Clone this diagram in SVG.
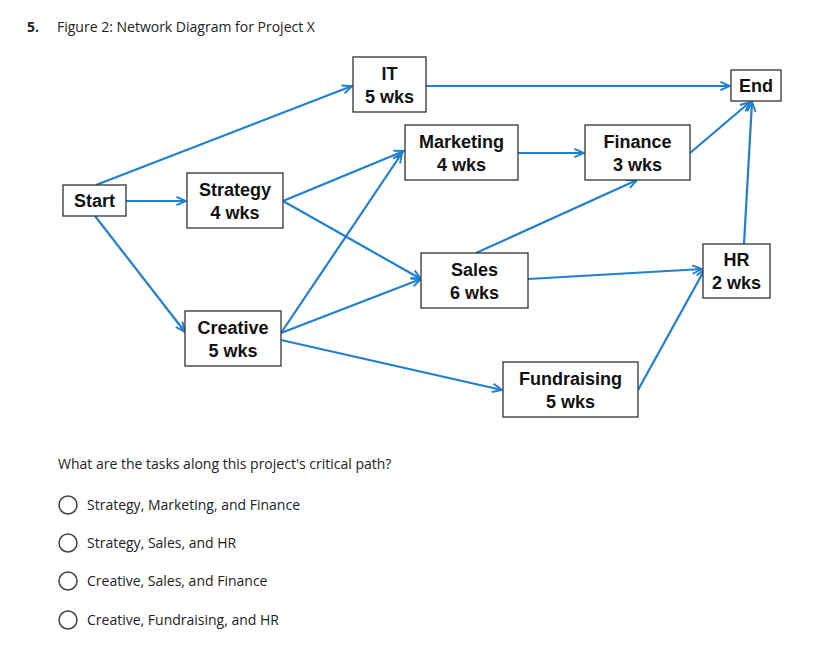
<svg xmlns="http://www.w3.org/2000/svg" width="819" height="666" viewBox="0 0 819 666">
<style>
.n{fill:#fff;stroke:#333;stroke-width:1.3}
.t{font-family:"Liberation Sans",Arial,sans-serif;font-size:18px;font-weight:bold;fill:#111;text-anchor:middle}
.c line{stroke:#1f7fd0;stroke-width:2.2;marker-end:url(#a)}
.q{font-family:"Open Sans","Noto Sans",sans-serif;font-size:14px;fill:#222}
.r{fill:#fff;stroke:#444;stroke-width:1.5}
</style>
<defs><marker id="a" viewBox="0 0 10 10" refX="9" refY="5" markerWidth="12" markerHeight="12" orient="auto" markerUnits="userSpaceOnUse"><path d="M1,1.5 L9,5 L1,8.5" fill="none" stroke="#1f7fd0" stroke-width="1.6"/></marker></defs>
<rect width="819" height="666" fill="#fff"/>
<text x="27" y="32" class="q" font-weight="bold">5.</text>
<text x="57" y="32" class="q">Figure 2: Network Diagram for Project X</text>
<g class="c">
<line x1="96" y1="185" x2="352" y2="86"/>
<line x1="126" y1="201" x2="186" y2="201"/>
<line x1="95" y1="216" x2="185" y2="332"/>
<line x1="283" y1="201" x2="404" y2="151"/>
<line x1="283" y1="201" x2="421" y2="279"/>
<line x1="281" y1="333" x2="402" y2="153"/>
<line x1="281" y1="333" x2="421" y2="279"/>
<line x1="281" y1="340" x2="502" y2="390"/>
<line x1="426" y1="86" x2="730" y2="86"/>
<line x1="518" y1="153" x2="584" y2="153"/>
<line x1="476" y1="253" x2="637" y2="180"/>
<line x1="528" y1="279" x2="702" y2="269"/>
<line x1="638" y1="390" x2="705" y2="269"/>
<line x1="690" y1="153" x2="750" y2="102"/>
<line x1="744" y1="244" x2="752" y2="102"/>
</g>
<g id="start"><rect class="n" x="63" y="185" width="63" height="31"/><text class="t" x="94.5" y="207">Start</text></g>
<g id="strategy"><rect class="n" x="187" y="173" width="96" height="55"/><text class="t" x="235" y="196">Strategy</text><text class="t" x="235" y="219">4 wks</text></g>
<g id="it"><rect class="n" x="353" y="57" width="73" height="55"/><text class="t" x="389.5" y="80">IT</text><text class="t" x="389.5" y="103">5 wks</text></g>
<g id="marketing"><rect class="n" x="405" y="125" width="113" height="55"/><text class="t" x="461.5" y="148">Marketing</text><text class="t" x="461.5" y="171">4 wks</text></g>
<g id="finance"><rect class="n" x="585" y="125" width="105" height="55"/><text class="t" x="637.5" y="148">Finance</text><text class="t" x="637.5" y="171">3 wks</text></g>
<g id="end"><rect class="n" x="731" y="70" width="50" height="31"/><text class="t" x="756" y="92">End</text></g>
<g id="sales"><rect class="n" x="421" y="253" width="107" height="55"/><text class="t" x="474.5" y="276">Sales</text><text class="t" x="474.5" y="299">6 wks</text></g>
<g id="hr"><rect class="n" x="703" y="244" width="67" height="54"/><text class="t" x="736.5" y="266">HR</text><text class="t" x="736.5" y="289">2 wks</text></g>
<g id="creative"><rect class="n" x="185" y="311" width="96" height="55"/><text class="t" x="233" y="334">Creative</text><text class="t" x="233" y="357">5 wks</text></g>
<g id="fundraising"><rect class="n" x="503" y="362" width="135" height="55"/><text class="t" x="570.5" y="385">Fundraising</text><text class="t" x="570.5" y="408">5 wks</text></g>
<text class="q" x="58" y="469">What are the tasks along this project's critical path?</text>
<circle class="r" cx="68" cy="505" r="9"/><text class="q" x="87" y="510">Strategy, Marketing, and Finance</text>
<circle class="r" cx="68" cy="543" r="9"/><text class="q" x="87" y="548">Strategy, Sales, and HR</text>
<circle class="r" cx="68" cy="581" r="9"/><text class="q" x="87" y="586">Creative, Sales, and Finance</text>
<circle class="r" cx="68" cy="620" r="9"/><text class="q" x="87" y="625">Creative, Fundraising, and HR</text>
</svg>
